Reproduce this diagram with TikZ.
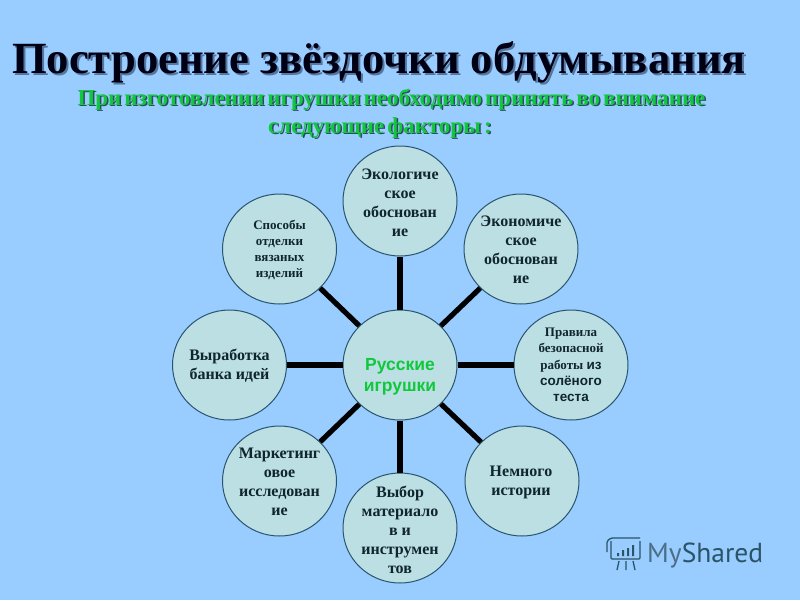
\documentclass[tikz,border=0pt]{standalone}
\usepackage{fontspec}
\usetikzlibrary{shapes.geometric}
\setmainfont{Liberation Serif}
\setsansfont{Liberation Sans}
\newfontfamily\logofont{PT Sans}
\newfontfamily\subfont[WordSpace=0.55]{Liberation Serif}
\definecolor{bgblue}{HTML}{99CCFF}
\definecolor{disc}{HTML}{BBDFE3}
\definecolor{ring}{HTML}{2A5570}
\definecolor{inktxt}{HTML}{10252E}
\definecolor{greentxt}{HTML}{10C83C}
\definecolor{shadowc}{HTML}{31486A}
\definecolor{logoc}{HTML}{2B5468}
\definecolor{logolight}{HTML}{4C6E88}
\newcommand{\sfpart}[1]{{\sffamily\fontsize{13.5}{16}\selectfont #1}}
\tikzset{
  x=1pt,y=-1pt,
  disk/.style={ellipse,draw=ring,line width=1pt,fill=disc,minimum width=114pt,minimum height=110pt,inner sep=0pt},
  disktext/.style={align=center,text=inktxt,inner sep=0pt,font=\fontsize{16}{19}\selectfont\bfseries},
  smalltext/.style={disktext,font=\fontsize{13}{16.3}\selectfont\bfseries},
  spoke/.style={line width=5.2pt,black},
  titletxt/.style={anchor=base,inner sep=0pt,font=\fontsize{44.6}{48}\selectfont\bfseries},
  subtxt/.style={inner sep=0pt,align=center,font=\subfont\fontsize{22.9}{28}\selectfont\bfseries},
  logoline/.style={draw=logoc,line width=1.3pt},
}
\begin{document}
\begin{tikzpicture}
\useasboundingbox (0,0) rectangle (800,600);
\fill[bgblue] (0,0) rectangle (800,600);
% title
\node[titletxt,text=shadowc!65!bgblue] (titleshadow) at (381,75) {Построение звёздочки обдумывания};
\node[titletxt,text=black!92!blue] (title) at (379,73) {Построение звёздочки обдумывания};
\node[subtxt,text=shadowc] (subshadow) at (393,115) {При изготовлении игрушки необходимо принять во внимание\\следующие факторы :\hspace*{23pt}};
\node[subtxt,text=greentxt] (sub) at (391.5,113.5) {При изготовлении игрушки необходимо принять во внимание\\следующие факторы :\hspace*{23pt}};
% disks
\node[disk] (hub) at (400,365) {};
\node[disk] (n1) at (400,201) {};
\node[disk] (n2) at (521,249) {};
\node[disk] (n3) at (571,365) {};
\node[disk] (n4) at (522,481) {};
\node[disk] (n5) at (400,528) {};
\node[disk] (n6) at (279.5,481) {};
\node[disk] (n7) at (229.5,365) {};
\node[disk] (n8) at (279.5,249) {};
% spokes
\foreach \n in {n1,n2,n3,n4,n5,n6,n7,n8}{\draw[spoke] (hub) -- (\n);}
% disk texts
\node[disktext] (t1) at (400,202.5) {Экологиче\\ское\\обоснован\\ие};
\node[disktext] (t2) at (521,250) {Экономиче\\ское\\обоснован\\ие};
\node[smalltext] (t3) at (571,365) {Правила\\безопасной\\работы \sfpart{из}\\\sfpart{солёного}\\\sfpart{теста}};
\node[disktext] (t4) at (521,482) {Немного\\истории};
\node[disktext] (t5) at (400,530) {Выбор\\материало\\в и\\инструмен\\тов};
\node[disktext] (t6) at (279.5,481.5) {Маркетинг\\овое\\исследован\\ие};
\node[disktext] (t7) at (229.5,366) {Выработка\\банка идей};
\node[smalltext] (t8) at (279.5,250) {Способы\\отделки\\вязаных\\изделий};
\node[font=\fontsize{17.5}{21.5}\selectfont\sffamily\bfseries,text=greentxt,align=center,inner sep=0pt] (hubtext) at (400,377) {Русские\\игрушки};
% logo
\draw[logoline,rounded corners=1pt] (611,541) -- (611,559) -- (640,559) -- (640,541);
\draw[logoline,rounded corners=1.5pt] (607,552) -- (607,541) -- (611,538) -- (640,538);
\fill[logoc] (617,553) rectangle (619,556) (622,550) rectangle (624,556) (627,548) rectangle (629,556) (632,545) rectangle (634,556);
\draw[logoline] (619,561) -- (617,570) (626,561) -- (626,570) (633,561) -- (635,570);
\node[anchor=base west,inner sep=0pt,font=\logofont\fontsize{27.5}{30}\selectfont] (logo) at (647,562) {\textcolor{logolight}{My}\textcolor{logoc}{Shared}};
\end{tikzpicture}
\end{document}
